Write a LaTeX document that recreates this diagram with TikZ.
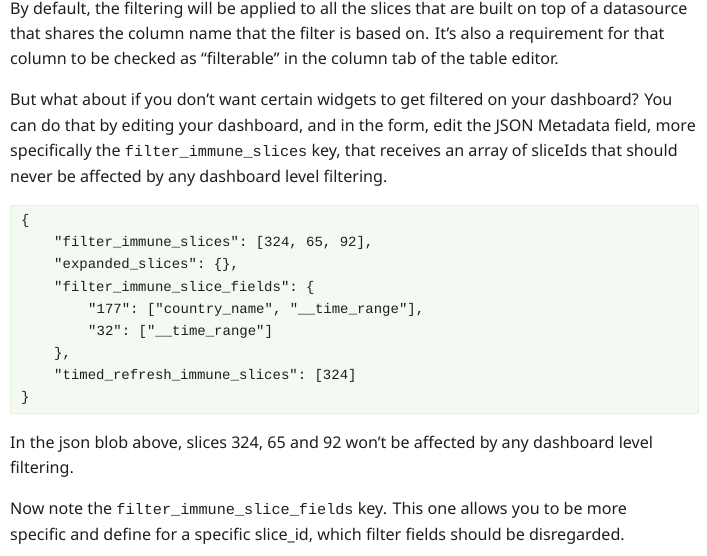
\documentclass[tikz,border=0pt]{standalone}
\usepackage{fontspec}
\setmainfont{Noto Sans}
\setmonofont{Liberation Mono}
\definecolor{txt}{HTML}{1E1E1E}
\definecolor{codebg}{HTML}{F3FAF1}
\definecolor{codebd}{HTML}{C5DDC0}
\begin{document}
\begin{tikzpicture}[x=1pt,y=-1pt,
  para/.style={anchor=base west,inner sep=0,text=txt,font=\fontsize{16.1}{18}\selectfont},
  code/.style={anchor=base west,inner sep=0,text=txt,font=\ttfamily\fontsize{14}{16}\selectfont}]
\useasboundingbox (0,0) rectangle (707,556);
\node[para] (l1) at (10,15) {By default, the filtering will be applied to all the slices that are built on top of a datasource};
\node[para] (l2) at (10,40) {that shares the column name that the filter is based on. It’s also a requirement for that};
\node[para] (l3) at (10,65) {column to be checked as “filterable” in the column tab of the table editor.};
\node[para] (l4) at (10,106) {But what about if you don’t want certain widgets to get filtered on your dashboard? You};
\node[para] (l5) at (10,132) {can do that by editing your dashboard, and in the form, edit the JSON Metadata field, more};
\node[para] (l6) at (10,157) {specifically the {\ttfamily\fontsize{15.2}{16}\selectfont filter\_immune\_slices} key, that receives an array of sliceIds that should};
\node[para] (l7) at (10,183) {never be affected by any dashboard level filtering.};
\draw[codebd,fill=codebg,rounded corners=2pt] (10.5,205.5) rectangle (698.5,413.5);
\node[code] (c1) at (21,225) {\{};
\node[code] (c2) at (54,247) {"filter\_immune\_slices": [324, 65, 92],};
\node[code] (c3) at (54,269) {"expanded\_slices": \{\},};
\node[code] (c4) at (54,291) {"filter\_immune\_slice\_fields": \{};
\node[code] (c5) at (88,313) {"177": ["country\_name", "\_\_time\_range"],};
\node[code] (c6) at (88,335) {"32": ["\_\_time\_range"]};
\node[code] (c7) at (54,357) {\},};
\node[code] (c8) at (54,379) {"timed\_refresh\_immune\_slices": [324]};
\node[code] (c9) at (21,401) {\}};
\node[para] (l8) at (10,448) {In the json blob above, slices 324, 65 and 92 won’t be affected by any dashboard level};
\node[para] (l9) at (10,473) {filtering.};
\node[para] (l10) at (10,514) {Now note the {\ttfamily\fontsize{15.2}{16}\selectfont filter\_immune\_slice\_fields} key. This one allows you to be more};
\node[para] (l11) at (10,540) {specific and define for a specific slice\_id, which filter fields should be disregarded.};
\end{tikzpicture}
\end{document}
